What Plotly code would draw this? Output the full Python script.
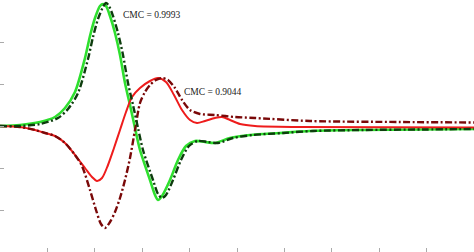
import plotly.graph_objects as go

# x in axis units (ticks every 1), y in axis units (ticks every 1)
PX_X = 47.4
PX_Y = 42.0

def cx(v):
    return [p / PX_X for p in v]

def cy(v):
    return [(126 - p) / PX_Y for p in v]

green_x_px = [0, 20, 40, 55, 65, 75, 85, 90, 95, 100, 103, 106, 110, 115, 120, 125, 130, 135, 140, 150, 155, 158, 162, 170, 178, 186, 195, 205, 215, 230, 250, 280, 310, 360, 420, 474]
green_y_px = [126, 125, 122, 117, 108, 92, 58, 36, 18, 6, 4, 6, 16, 33, 55, 83, 105, 128, 150, 180, 195, 200, 196, 180, 160, 146, 141, 142, 143, 138, 135, 133, 131, 130, 129.5, 129]

greendd_x_px = [0, 20, 40, 58, 68, 78, 88, 93, 98, 103, 106, 109, 113, 118, 123, 128, 133, 138, 143, 153, 158, 162, 166, 173, 181, 189, 198, 208, 218, 233, 253, 283, 313, 363, 423, 474]
greendd_y_px = [126, 126, 124, 118, 109, 93, 59, 37, 19, 7, 3, 6, 16, 33, 55, 83, 105, 128, 150, 180, 194, 198, 195, 180, 160, 146, 141, 142, 143, 138, 135, 133, 131, 130, 129.5, 129]

red_x_px = [0, 20, 35, 45, 55, 65, 75, 85, 92, 97, 102, 108, 114, 120, 126, 132, 140, 150, 158, 166, 174, 182, 190, 197, 205, 215, 222, 230, 240, 255, 300, 474]
red_y_px = [126, 127, 130, 133, 136, 143, 155, 168, 177, 181, 178, 165, 148, 130, 112, 97, 88, 81, 78, 82, 95, 110, 120, 123, 121, 118, 117, 120, 124, 126, 127, 127.5]

reddd_x_px = [0, 20, 35, 45, 55, 65, 75, 82, 90, 96, 101, 105, 110, 115, 120, 125, 130, 135, 140, 145, 150, 156, 162, 168, 175, 182, 190, 200, 215, 235, 255, 310, 400, 474]
reddd_y_px = [126, 127, 130, 133, 136, 143, 155, 166, 190, 210, 224, 228, 222, 212, 198, 180, 158, 130, 103, 92, 85, 80, 78, 80, 88, 100, 110, 114, 115, 117, 118, 121, 122, 122.5]

label_1 = "CMC = 0.9993"
label_2 = "CMC = 0.9044"

fig = go.Figure()
fig.add_trace(go.Scatter(x=cx(green_x_px), y=cy(green_y_px), mode="lines",
                         line=dict(color="#2ee02e", width=2.6, shape="spline", smoothing=0.8)))
fig.add_trace(go.Scatter(x=cx(red_x_px), y=cy(red_y_px), mode="lines",
                         line=dict(color="#ee1c1c", width=2.0, shape="spline", smoothing=0.8)))
fig.add_trace(go.Scatter(x=cx(reddd_x_px), y=cy(reddd_y_px), mode="lines",
                         line=dict(color="#7a0808", width=2.4, shape="spline", smoothing=0.8,
                                   dash="7px,2.5px,2px,2.5px")))
fig.add_trace(go.Scatter(x=cx(greendd_x_px), y=cy(greendd_y_px), mode="lines",
                         line=dict(color="#0d3d0d", width=2.4, shape="spline", smoothing=0.8,
                                   dash="7px,2.5px,2px,2.5px")))

fig.add_annotation(x=121 / PX_X, y=(126 - 15) / PX_Y, text=label_1, showarrow=False,
                   xanchor="left", yanchor="middle",
                   font=dict(family="Liberation Serif", size=9.5, color="#222"))
fig.add_annotation(x=182 / PX_X, y=(126 - 92) / PX_Y, text=label_2, showarrow=False,
                   xanchor="left", yanchor="middle",
                   font=dict(family="Liberation Serif", size=9.5, color="#222"))

fig.update_layout(
    width=474, height=252, margin=dict(l=0, r=0, t=0, b=0),
    paper_bgcolor="white", plot_bgcolor="white", showlegend=False,
    xaxis=dict(range=[0, 10], tickvals=list(range(0, 11)), ticks="inside", ticklen=4,
               tickcolor="#aaaaaa", tickwidth=1, showticklabels=False, showgrid=False,
               zeroline=False, showline=False),
    yaxis=dict(range=[-3, 3], tickvals=[-2, -1, 0, 1, 2], ticks="inside", ticklen=4,
               tickcolor="#aaaaaa", tickwidth=1, showticklabels=False, showgrid=False,
               zeroline=False, showline=False),
)
fig.write_html("out.html")
